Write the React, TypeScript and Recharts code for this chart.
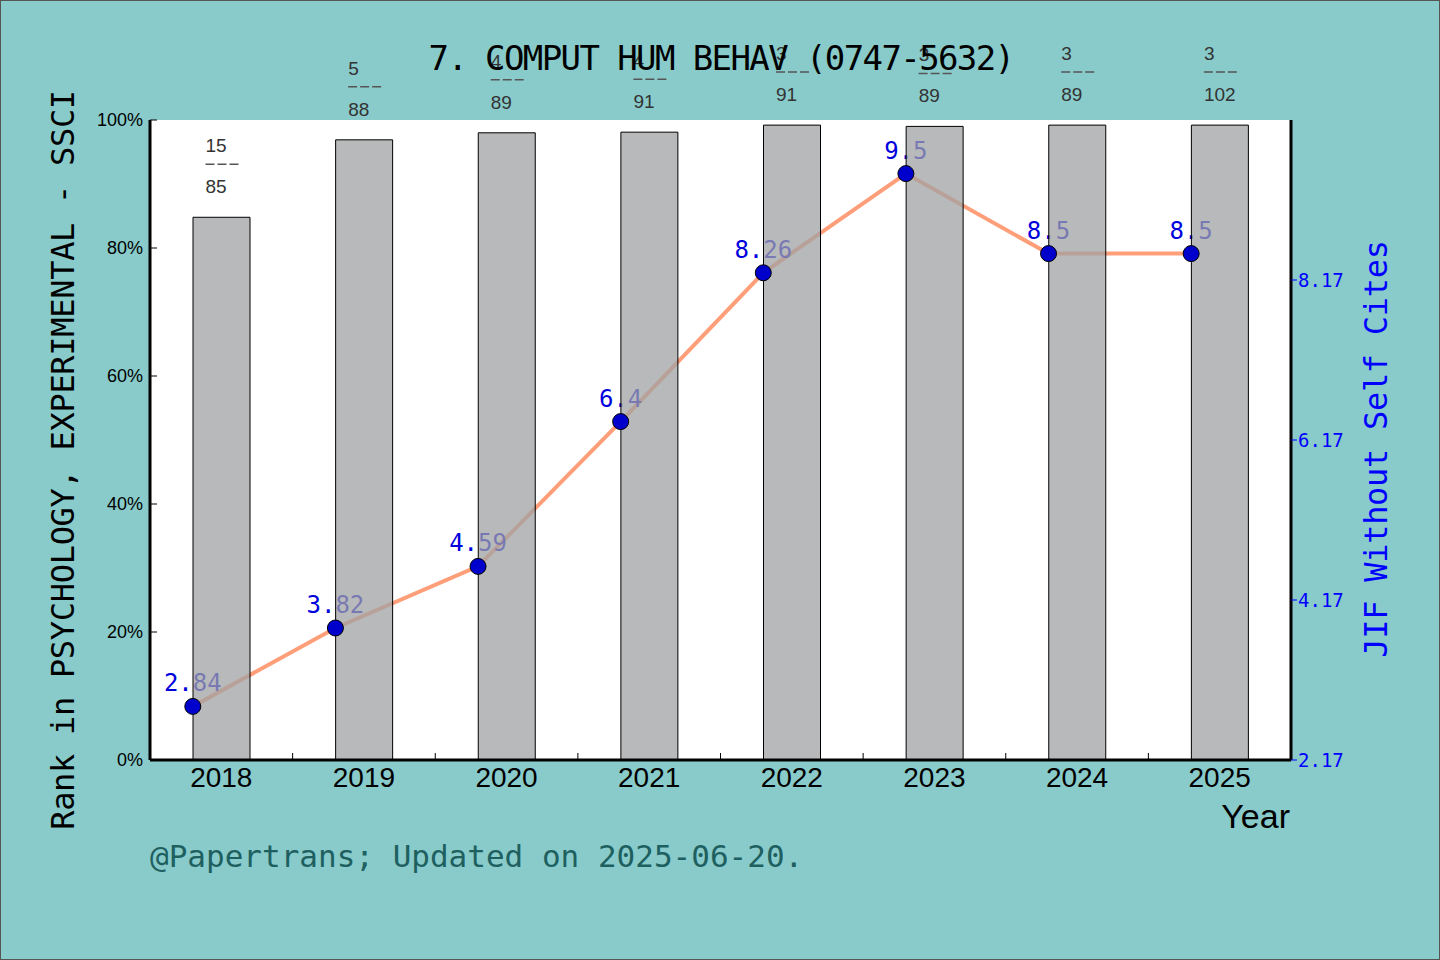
import React from 'react'
import {
  ComposedChart, Bar, Line, XAxis, YAxis, CartesianGrid, LabelList
} from 'recharts'

// values
const years = ['2018', '2019', '2020', '2021', '2022', '2023', '2024', '2025']
const rankPercent = [84.8, 96.9, 98.0, 98.1, 99.2, 99.0, 99.2, 99.2]
const rankPosition = [15, 5, 4, 4, 3, 3, 3, 3]
const rankTotal = [85, 88, 89, 91, 91, 89, 89, 102]
const jifNoSelf = [2.84, 3.82, 4.59, 6.4, 8.26, 9.5, 8.5, 8.5]
const leftTicks = [0, 20, 40, 60, 80, 100]
const rightTicks = [2.17, 4.17, 6.17, 8.17]

// line points sit on the left edge of each bar
const LINE_SHIFT = 0.3

const BG = '#88CBCA'
const MONO = '"DejaVu Sans Mono", monospace'
const SANS = '"Liberation Sans", Arial, sans-serif'

const data = years.map((year, i) => ({
  year,
  pos: i + LINE_SHIFT,
  rank: rankPercent[i],
  num: rankPosition[i],
  total: rankTotal[i],
  jif: jifNoSelf[i],
}))

const LeftTick = (p: any) => {
  const { x, y, payload } = p
  return (
    <g>
      <line x1={x} x2={x + 7} y1={y} y2={y} stroke="#000" strokeWidth={1} />
      <text x={x - 7} y={y} textAnchor="end" dominantBaseline="central"
        fontFamily={SANS} fontSize={18} fill="#000">
        {payload.value}%
      </text>
    </g>
  )
}

const BottomTick = (p: any) => {
  const { x, y, payload, index, visibleTicksCount } = p
  const half = payload?.offset || 71.3
  return (
    <g>
      <text x={x} y={y + 17} textAnchor="middle" dominantBaseline="central"
        fontFamily={SANS} fontSize={28} fill="#000">
        {payload.value}
      </text>
      {index < visibleTicksCount - 1 && (
        <line x1={x + half} x2={x + half} y1={y} y2={y - 7} stroke="#000" strokeWidth={1} />
      )}
    </g>
  )
}

const RankLabel = (p: any) => {
  const { x, y, width, index } = p
  const tx = x + width / 2 - 16
  return (
    <g fontFamily={SANS} fontSize={19} fill="#333">
      <text x={tx} y={y - 65}>{rankPosition[index]}</text>
      <line x1={tx} x2={tx + 33} y1={y - 53} y2={y - 53} stroke="#555"
        strokeWidth={1.5} strokeDasharray="9 3" />
      <text x={tx} y={y - 24}>{rankTotal[index]}</text>
    </g>
  )
}

const JifLabel = (p: any) => {
  const { x, y, value } = p
  return (
    <text x={x} y={y - 15} textAnchor="middle" fontFamily={MONO} fontSize={24} fill="#0000DD">
      {String(value)}
    </text>
  )
}

export default function App() {
  return (
    <div style={{
      position: 'absolute', left: 0, top: 0, width: 1440, height: 960,
      background: BG, boxSizing: 'border-box', border: '1px solid #555', overflow: 'hidden'
    }}>
      <div style={{ position: 'absolute', left: -1, top: -1 }}>
        <ComposedChart width={1440} height={960} data={data}
          margin={{ top: 120, right: 89, bottom: 170, left: 90 }}>
          <CartesianGrid fill="#fff" horizontal={false} vertical={false} />
          <XAxis xAxisId="cat" dataKey="year" type="category" height={30}
            axisLine={{ stroke: '#000', strokeWidth: 3 }} tickLine={false}
            tickSize={0} tickMargin={0} tick={<BottomTick />} interval={0} />
          <XAxis xAxisId="pos" dataKey="pos" type="number" domain={[0, 8]}
            orientation="top" height={0} tick={false} tickLine={false}
            axisLine={{ stroke: '#000', strokeWidth: 3 }} />
          <YAxis yAxisId="left" width={60} domain={[0, 100]} ticks={leftTicks}
            axisLine={{ stroke: '#000', strokeWidth: 3 }} tickLine={false}
            tickSize={0} tickMargin={0} tick={<LeftTick />} />
          <YAxis yAxisId="right" orientation="right" width={60}
            domain={[2.17, 10.17]} ticks={rightTicks} allowDataOverflow
            axisLine={{ stroke: '#000', strokeWidth: 3 }}
            tickLine={{ stroke: '#0000FF' }} tickSize={6} tickMargin={1}
            tickFormatter={(v: number) => v.toFixed(2)}
            tick={{ fill: '#0000FF', fontSize: 19, fontFamily: MONO }} />
          <Line xAxisId="pos" yAxisId="right" dataKey="jif" type="linear"
            stroke="#FF9F7A" strokeWidth={4}
            dot={{ r: 8, fill: '#0000CC', stroke: '#000', strokeWidth: 1, fillOpacity: 1 }}
            activeDot={false} isAnimationActive={false} zIndex={400}>
            <LabelList dataKey="jif" content={<JifLabel />} zIndex={420} />
          </Line>
          <Bar xAxisId="cat" yAxisId="left" dataKey="rank" barSize={57}
            fill="#A0A1A3" fillOpacity={0.75} stroke="#000" strokeWidth={1}
            isAnimationActive={false} zIndex={450}>
            <LabelList dataKey="num" content={<RankLabel />} />
          </Bar>
        </ComposedChart>
      </div>
      <svg width={1440} height={960} style={{ position: 'absolute', left: -1, top: -1, pointerEvents: 'none' }}>
        <text x={721} y={70} textAnchor="middle" fontFamily={MONO} fontSize={34}
          letterSpacing={-1.6} fill="#000">
          7. COMPUT HUM BEHAV (0747-5632)
        </text>
        <text x={0} y={0} transform="translate(74 460) rotate(-90)" textAnchor="middle"
          fontFamily={MONO} fontSize={32} letterSpacing={-0.3} fill="#000">
          Rank in PSYCHOLOGY, EXPERIMENTAL - SSCI
        </text>
        <text x={0} y={0} transform="translate(1387 449) rotate(-90)" textAnchor="middle"
          fontFamily={MONO} fontSize={32} letterSpacing={-0.3} fill="#0000FF">
          JIF Without Self Cites
        </text>
        <text x={1290} y={828} textAnchor="end" fontFamily={SANS} fontSize={34} fill="#000">
          Year
        </text>
        <text x={150} y={867} fontFamily={MONO} fontSize={31} fill="#1E6060">
          @Papertrans; Updated on 2025-06-20.
        </text>
      </svg>
    </div>
  )
}
